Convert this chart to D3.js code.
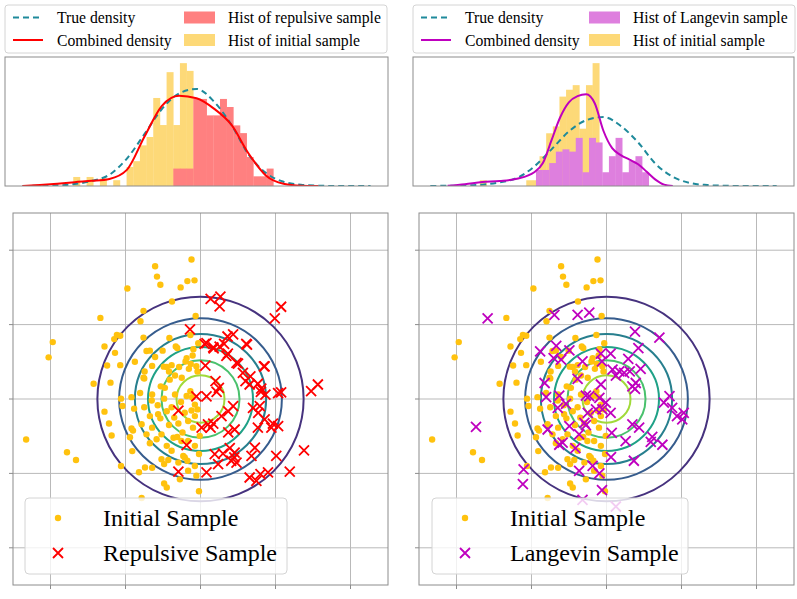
<!DOCTYPE html>
<html>
<head>
<meta charset="utf-8">
<script src="https://cdn.jsdelivr.net/npm/d3@7"></script>
<style>
  body { margin: 0; background: #fff; }
  svg { display: block; }
  text { font-family: "Liberation Serif", "DejaVu Serif", serif; fill: #000; }
</style>
</head>
<body>
<svg id="fig" width="797" height="599"></svg>
<script>
// ---------- data ----------
// true density (same target in both panels)
const trueX = [-5, -4.5, -4, -3.5, -3, -2.5, -2, -1.5, -1, -0.5, 0, 0.5, 1, 1.5, 2, 2.5, 3, 3.5, 4, 4.5, 5];
const trueY = [0, 0.001, 0.002, 0.006, 0.016, 0.035, 0.085, 0.160, 0.238, 0.287, 0.301, 0.262, 0.190, 0.097, 0.040, 0.013, 0.004, 0.001, 0, 0, 0];

// combined density, repulsive run
const repDensX = [-5, -4.5, -4, -3.5, -3, -2.5, -2, -1.5, -1, -0.5, 0, 0.5, 1, 1.5, 2, 2.5, 3, 3.5];
const repDensY = [0, 0.003, 0.007, 0.012, 0.016, 0.022, 0.05, 0.152, 0.248, 0.28, 0.272, 0.24, 0.19, 0.10, 0.032, 0.007, 0.001, 0];

// combined density, Langevin run
const lanDensX = [-4.5, -4, -3.5, -3, -2.5, -2, -1.75, -1.5, -1.25, -1, -0.75, -0.5, -0.25, 0, 0.25, 0.5, 0.75, 1, 1.25, 1.5, 1.75, 2];
const lanDensY = [0.001, 0.008, 0.017, 0.022, 0.032, 0.06, 0.10, 0.20, 0.30, 0.365, 0.392, 0.40, 0.36, 0.24, 0.165, 0.135, 0.115, 0.095, 0.062, 0.028, 0.006, 0];

// histograms: first bin edge, bin width, heights
const binW = 0.1915;
const repInitStart = -3.54;
const repInitHist = [0.028, 0, 0.028, 0, 0.023, 0, 0.018, 0, 0.059, 0.077, 0.126, 0.152, 0.273, 0.189, 0.353, 0.189, 0.381, 0.357];
const repHistStart = -0.666;
const repHist = [0.054, 0.054, 0.054, 0.27, 0.27, 0.219, 0.219, 0.27, 0.245, 0.188, 0.164, 0.09, 0.03, 0.03, 0.054];
const lanInitStart = -3.57;
const lanInitHist = [0.025, 0, 0, 0, 0, 0, 0, 0.025, 0.025, 0.13, 0.23, 0.26, 0.39, 0.42, 0.44, 0.25, 0.44, 0.536];
const lanHistStart = -1.95;
const lanHist = [0.07, 0.07, 0.1, 0.15, 0.16, 0.15, 0.21, 0.06, 0.21, 0.19, 0.06, 0.13, 0.21, 0.06, 0.11, 0.13, 0.06];

// contour radii of the target (outer to inner)
const contourR = [2.75, 2.17, 1.75, 1.4, 1.04, 0.64];

// initial sample (shared by both panels)
const initPts = [
  [-0.24,3.75],[-1.21,3.57],[-1.16,3.29],[-1.07,3.07],[-0.35,3.17],[-0.16,3.19],[-0.53,3.0],[-1.95,2.97],
  [-0.76,2.62],[-2.67,2.18],[-1.52,2.37],[-1.6,2.09],[-0.13,2.23],[-3.94,1.53],[-4.05,1.12],[-2.23,1.72],
  [-2.30,1.61],[-2.14,1.70],[-2.56,1.41],[-1.52,1.65],[-0.83,1.64],[-0.27,1.72],[-0.66,1.41],[-0.62,1.37],
  [-2.28,1.24],[-1.44,1.29],[-1.35,1.30],[-1.21,1.13],[-1.01,1.30],[-0.19,1.34],[-0.21,1.17],[-0.06,1.50],
  [-2.49,0.9],[-2.14,0.91],[-1.75,1.0],[-1.29,0.89],[-1.49,0.74],[-1.5,0.55],[-0.98,0.87],[-0.9,0.86],
  [-0.77,0.91],[-0.84,0.74],[-0.57,0.86],[-0.40,1.01],[-0.37,1.10],[-0.26,0.94],[-0.31,0.81],[-0.11,0.88],
  [-0.08,0.74],[-0.68,0.63],[-0.5,0.57],[-2.85,0.41],[-2.4,0.44],[-4.65,-1.09],[-3.56,-1.43],[-3.32,-1.64],
  [-2.56,-0.34],[-2.44,-0.66],[-2.37,-0.98],[-2.12,0.01],[-2.08,-0.19],[-1.84,0.05],[-1.77,-0.26],[-1.84,-0.79],
  [-1.80,-0.85],[-1.88,-1.03],[-1.82,-1.40],[-2.12,-1.80],[-1.64,-1.97],[-1.48,-1.84],[-1.29,-1.85],[-1.5,-0.22],
  [-1.29,0.12],[-1.30,-0.04],[-1.35,-0.46],[-1.29,-0.77],[-1.35,-1.19],[-1.14,-0.17],[-1.07,-0.52],[-1.04,-1.62],
  [-0.97,-1.75],[-0.86,-1.64],[-0.97,0.01],[-0.9,-0.33],[-0.84,-0.70],[-0.72,-1.04],[-0.62,-1.02],[-0.51,-1.13],
  [-0.55,-2.16],[-0.42,-1.57],[-0.35,-1.66],[-0.97,-2.27],[-0.9,-2.38],[-0.04,-2.48],[-1.57,-2.66],[-0.11,-2.06],
  [-0.15,-1.80],[-0.27,0.21],[-0.22,0.05],[-0.15,-0.15],[-0.24,-0.31],[-0.15,-0.46],[-0.33,-0.59],[-0.20,-0.77],
  [-0.08,-0.28],[-0.52,-0.08],[-0.42,-0.37],[-0.37,0.08],[-0.59,-0.66],[-0.70,-0.50],[-0.77,-0.22],[-0.95,0.30],
  [-0.82,0.52],[-1.06,0.34],[-0.68,0.12],[-1.04,-0.95],[-1.17,-1.08],[-0.9,-1.26],[-0.77,-1.39],[-0.33,-1.13],
  [-0.15,-1.26],[-0.46,-1.53],[-0.59,-1.71],[-0.33,-1.93],[-1.57,-0.68],[-1.44,-0.95],[-1.61,0.16],[-1.13,-0.41],
  [-0.48,-0.90],[-0.02,-0.99],[-0.04,-1.48],[-1.52,0.57]
];

// repulsive sample
const repPts = [
  [0.27,2.69],[0.53,2.75],[0.51,2.49],[2.15,2.48],[1.98,2.17],[-0.28,1.87],[0.87,1.74],[0.72,1.68],
  [0.63,1.48],[1.22,1.48],[0.11,1.48],[0.34,1.39],[0.51,1.41],[0.73,1.22],[1.0,0.95],[1.71,0.88],
  [0.13,0.90],[0.40,0.48],[1.13,0.70],[1.33,0.61],[1.2,0.48],[1.53,0.41],[1.62,0.28],[2.15,0.18],
  [3.13,0.39],[2.95,0.21],[-0.11,0.07],[0.16,0.07],[0.43,0.19],[0.49,0.30],[1.31,0.39],[1.61,0.19],
  [1.73,0.12],[2.07,0.16],[-0.59,-0.31],[0.74,-0.33],[0.87,-0.19],[0.56,-0.46],[0.20,-0.68],[0.34,-0.66],
  [0.27,-0.77],[0.03,-0.77],[0.91,-0.82],[0.74,-0.90],[1.40,-0.24],[1.58,-0.19],[1.54,-0.37],[1.71,-0.55],
  [1.93,-0.66],[2.07,-0.73],[1.89,-0.77],[1.53,-0.77],[-0.37,-1.24],[0.38,-1.48],[0.60,-1.47],[0.78,-1.32],
  [0.91,-1.44],[0.82,-1.66],[0.96,-1.71],[0.90,-1.57],[1.45,-1.31],[1.36,-1.53],[2.02,-1.53],[2.76,-1.38],
  [2.38,-1.95],[-0.59,-1.95],[0.16,-1.97],[0.47,-1.75],[1.31,-2.11],[1.49,-2.20],[1.6,-2.02],[1.8,-1.97],
  [0.16,1.50],[0.35,1.36],[1.24,1.46],[0.69,1.16],[0.96,0.97],[1.69,0.88]
];

// Langevin sample
const lanPts = [
  [-3.17,2.17],[-1.39,2.26],[-0.77,2.26],[-0.46,2.32],[0.76,1.81],[1.41,1.65],[0.85,1.37],[-1.34,1.43],
  [-1.77,1.28],[-1.41,1.10],[-1.21,1.06],[-0.99,1.31],[-0.64,1.01],[-0.15,1.22],[0.11,1.22],[-0.12,1.01],
  [0.58,1.08],[0.91,0.81],[0.16,0.79],[0.34,0.74],[0.47,0.70],[0.62,0.74],[-0.77,0.54],[-1.65,0.43],
  [0.78,0.43],[0.76,0.27],[1.68,0.08],[-1.26,0.09],[-0.55,0.09],[-0.15,0.39],[0.25,0.63],[0.69,0.34],
  [-3.48,-0.75],[-1.61,0.05],[-1.30,-0.24],[-0.99,-0.73],[-1.57,-0.82],[-0.55,-0.70],[0.69,-0.68],[0.87,-0.77],
  [1.22,-1.02],[1.18,-1.15],[1.49,-1.23],[1.53,-0.10],[1.75,-0.24],[1.88,-0.46],[2.02,-0.55],[2.06,-0.37],
  [-1.26,-1.23],[-1.17,-1.17],[-0.83,-1.32],[0.14,-0.91],[0.51,-1.13],[0.12,-1.56],[0.73,-1.66],[-0.73,-1.93],
  [-0.37,-1.80],[-0.19,-2.0],[-2.21,-1.89],[-2.23,-2.29],[-0.12,-2.45],[-0.64,-2.71],[0.25,-2.89],[-0.46,0.08],
  [-0.19,0.03],[-0.02,-0.10],[-0.11,-0.28],[-0.28,-0.28],[-0.5,-0.37],[-1.08,-0.13],[0.11,-0.37],[-0.59,-0.64],
  [-0.73,-0.95]
];

const gridTicks = [-4, -2, 0, 2, 4];

// ---------- styles / layout ----------
const C = {
  init: '#ffc20e', initHist: '#fdd978', rep: '#ff0000', repHist: '#ff8080',
  lan: '#bf00bf', lanHist: '#de7fde', trueLine: '#1f8a9b', grid: '#b9b9b9', spine: '#8c8c8c'
};
const contourColors = ['#46327e', '#365c8d', '#277f8e', '#1fa187', '#4ac16d', '#a0da39'];

const svg = d3.select('#fig');

function drawHist(box, initStart, initHist, sStart, sHist, densX, densY, sCol, curveCol, id) {
  const x = d3.scaleLinear().domain([-5.5, 5.5]).range([box.x0, box.x1]);
  const ymax = 1.05 * d3.max([...initHist, ...sHist, ...densY, ...trueY]);
  const y = d3.scaleLinear().domain([0, ymax]).range([box.y1, box.y0]);
  svg.append('clipPath').attr('id', id).append('rect')
    .attr('x', box.x0).attr('y', box.y0).attr('width', box.x1 - box.x0).attr('height', box.y1 - box.y0);
  const g = svg.append('g').attr('clip-path', `url(#${id})`);

  const bars = (start, vals, col) => g.append('g').selectAll('rect')
    .data(vals.map((v, i) => ({ a: start + i * binW, v })))
    .join('rect')
      .attr('x', d => x(d.a))
      .attr('width', d => x(d.a + binW) - x(d.a) + 0.3)
      .attr('y', d => y(d.v))
      .attr('height', d => y(0) - y(d.v))
      .attr('fill', col);
  bars(initStart, initHist, C.initHist);
  bars(sStart, sHist, sCol);

  const line = d3.line().x(d => x(d[0])).y(d => y(d[1])).curve(d3.curveMonotoneX);
  g.append('path').attr('d', line(trueX.map((v, i) => [v, trueY[i]])))
    .attr('fill', 'none').attr('stroke', C.trueLine).attr('stroke-width', 2).attr('stroke-dasharray', '6,4');
  g.append('path').attr('d', line(densX.map((v, i) => [v, densY[i]])))
    .attr('fill', 'none').attr('stroke', curveCol).attr('stroke-width', 2);

  svg.append('rect').attr('x', box.x0).attr('y', box.y0)
    .attr('width', box.x1 - box.x0).attr('height', box.y1 - box.y0)
    .attr('fill', 'none').attr('stroke', C.spine).attr('stroke-width', 1);
}

function drawHistLegend(lg, sCol, curveCol, label) {
  svg.append('rect').attr('x', lg.x0).attr('y', 5).attr('width', lg.x1 - lg.x0).attr('height', 48)
    .attr('rx', 3).attr('fill', '#fff').attr('stroke', '#d4d4d4');
  const fs = 15.7;
  svg.append('line').attr('x1', lg.x0 + 8).attr('x2', lg.x0 + 38).attr('y1', 17.5).attr('y2', 17.5)
    .attr('stroke', C.trueLine).attr('stroke-width', 2).attr('stroke-dasharray', '6,4');
  svg.append('line').attr('x1', lg.x0 + 8).attr('x2', lg.x0 + 38).attr('y1', 40).attr('y2', 40)
    .attr('stroke', curveCol).attr('stroke-width', 2);
  svg.append('rect').attr('x', lg.px).attr('y', 11.5).attr('width', 31).attr('height', 12).attr('fill', sCol);
  svg.append('rect').attr('x', lg.px).attr('y', 34).attr('width', 31).attr('height', 12).attr('fill', C.initHist);
  const t = [[lg.x0 + 52, 22.8, 'True density'], [lg.x0 + 52, 45.5, 'Combined density'],
             [lg.px + 44, 22.8, label], [lg.px + 44, 45.5, 'Hist of initial sample']];
  svg.append('g').selectAll('text').data(t).join('text')
    .attr('x', d => d[0]).attr('y', d => d[1]).attr('font-size', fs).text(d => d[2]);
}

const xMark = 'M-5,-5L5,5M-5,5L5,-5';

function drawScatter(box, pts, col, label, id) {
  const x = d3.scaleLinear().domain([-5, 5]).range([box.x0, box.x1]);
  const y = d3.scaleLinear().domain([-5, 5]).range([box.y1, box.y0]);
  svg.append('clipPath').attr('id', id).append('rect')
    .attr('x', box.x0).attr('y', box.y0).attr('width', box.x1 - box.x0).attr('height', box.y1 - box.y0);
  const g = svg.append('g').attr('clip-path', `url(#${id})`);

  g.append('g').selectAll('line.v').data(gridTicks).join('line')
    .attr('x1', d => x(d)).attr('x2', d => x(d)).attr('y1', box.y0).attr('y2', box.y1)
    .attr('stroke', C.grid).attr('stroke-width', 1);
  g.append('g').selectAll('line.h').data(gridTicks).join('line')
    .attr('y1', d => y(d)).attr('y2', d => y(d)).attr('x1', box.x0).attr('x2', box.x1)
    .attr('stroke', C.grid).attr('stroke-width', 1);

  g.append('g').selectAll('ellipse').data(contourR).join('ellipse')
    .attr('cx', x(0)).attr('cy', y(0))
    .attr('rx', d => x(d) - x(0)).attr('ry', d => y(0) - y(d))
    .attr('fill', 'none').attr('stroke', (d, i) => contourColors[i]).attr('stroke-width', 2);

  g.append('g').selectAll('circle').data(initPts).join('circle')
    .attr('cx', d => x(d[0])).attr('cy', d => y(d[1])).attr('r', 3.2).attr('fill', C.init);
  g.append('g').selectAll('path').data(pts).join('path')
    .attr('d', xMark).attr('transform', d => `translate(${x(d[0])},${y(d[1])})`)
    .attr('fill', 'none').attr('stroke', col).attr('stroke-width', 1.8);

  svg.append('rect').attr('x', box.x0).attr('y', box.y0)
    .attr('width', box.x1 - box.x0).attr('height', box.y1 - box.y0)
    .attr('fill', 'none').attr('stroke', C.spine);
  // ticks (labels are not shown in the figure)
  svg.append('g').selectAll('line').data(gridTicks).join('line')
    .attr('x1', box.x0 - 4).attr('x2', box.x0).attr('y1', d => y(d)).attr('y2', d => y(d)).attr('stroke', C.spine);
  svg.append('g').selectAll('line').data(gridTicks).join('line')
    .attr('y1', box.y1).attr('y2', box.y1 + 4).attr('x1', d => x(d)).attr('x2', d => x(d)).attr('stroke', C.spine);

  // legend
  const lx = box.lg;
  svg.append('rect').attr('x', lx).attr('y', 498).attr('width', box.lgW).attr('height', 76).attr('rx', 4)
    .attr('fill', '#fff').attr('fill-opacity', 0.8).attr('stroke', '#d4d4d4');
  svg.append('circle').attr('cx', lx + 33).attr('cy', 518).attr('r', 3.2).attr('fill', C.init);
  svg.append('path').attr('d', xMark).attr('transform', `translate(${lx + 33},553)`)
    .attr('fill', 'none').attr('stroke', col).attr('stroke-width', 1.8);
  svg.append('text').attr('x', lx + 78).attr('y', 525.5).attr('font-size', 24).text('Initial Sample');
  svg.append('text').attr('x', lx + 78).attr('y', 560.5).attr('font-size', 24).text(label);
}

drawHist({ x0: 5, x1: 388, y0: 57, y1: 186 }, repInitStart, repInitHist, repHistStart, repHist,
  repDensX, repDensY, C.repHist, C.rep, 'ch1');
drawHist({ x0: 413, x1: 794, y0: 57, y1: 186 }, lanInitStart, lanInitHist, lanHistStart, lanHist,
  lanDensX, lanDensY, C.lanHist, C.lan, 'ch2');
drawHistLegend({ x0: 5, x1: 387, px: 184 }, C.repHist, C.rep, 'Hist of repulsive sample');
drawHistLegend({ x0: 413, x1: 795, px: 589 }, C.lanHist, C.lan, 'Hist of Langevin sample');

drawScatter({ x0: 13, x1: 388, y0: 213, y1: 585, lg: 25, lgW: 262 }, repPts, C.rep, 'Repulsive Sample', 'cs1');
drawScatter({ x0: 419, x1: 794, y0: 213, y1: 585, lg: 432, lgW: 256 }, lanPts, C.lan, 'Langevin Sample', 'cs2');
</script>
</body>
</html>
